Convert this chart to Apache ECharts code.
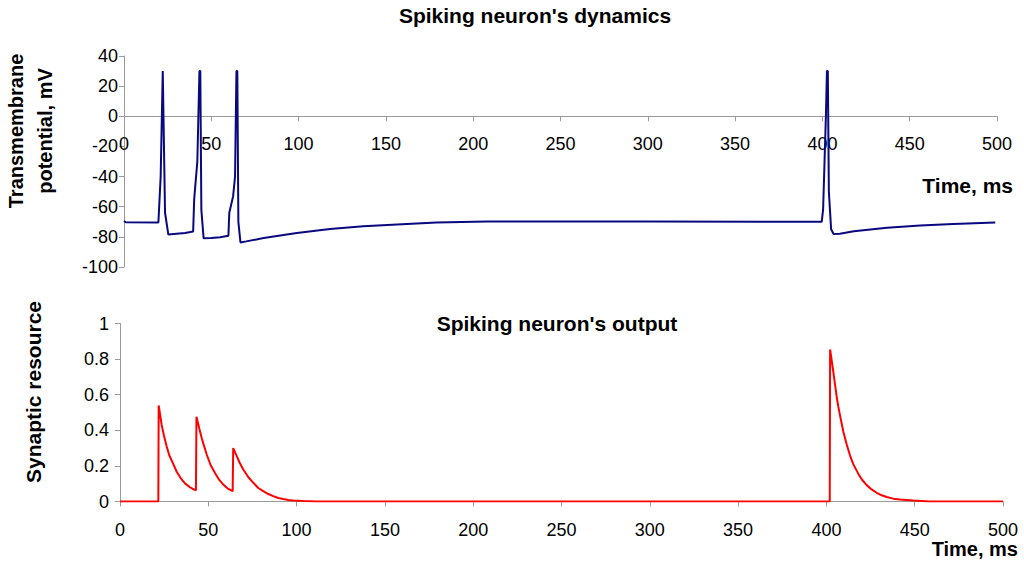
<!DOCTYPE html>
<html><head><meta charset="utf-8">
<script src="https://cdn.jsdelivr.net/npm/echarts@6/dist/echarts.min.js"></script>
<style>html,body{margin:0;padding:0;background:#fff}#c{width:1024px;height:565px}</style>
</head><body><div id="c"></div>
<script>
// Membrane potential (mV) vs time (ms)
var potTime = [0, 1, 19.7, 21.0, 22.2, 22.6, 23.5, 25.4, 30, 35, 39.6, 40.2, 42.0, 43.2, 43.7, 44.3, 45.6, 50, 55, 59.8, 60.3, 62.5, 63.6, 64.4, 64.9, 65.5, 66.7, 70, 80, 99, 118, 137, 162, 179, 208, 300, 399.6, 400.4, 402.0, 402.6, 403.1, 403.7, 405.0, 406.4, 410, 418, 437, 456, 475, 499];
var potValue = [-69.5, -70.3, -70.5, -40, 30, 30, -64, -78.5, -78, -77.5, -76.5, -55, -30, 30, 30, -62, -81, -80.8, -80.2, -79.2, -64, -53, -40, 30, 30, -70, -83.7, -83, -80.8, -77.4, -74.8, -73, -71.4, -70.5, -69.8, -69.8, -70, -62, 0, 30, 30, -50, -75, -78.1, -78, -76.3, -74, -72.5, -71.4, -70.5];
// Synaptic resource vs time (ms)
var resTime = [0, 21.7, 21.9, 23, 23.6, 24.9, 26.4, 27.9, 30.2, 32.1, 34.9, 36.8, 39.6, 41.5, 43.0,
  43.3, 44.9, 46.3, 47.2, 49.1, 51.3, 53.8, 56.2, 58.5, 60.8, 63.8,
  64.1, 66.1, 67.9, 69.8, 72.7, 75.5, 78.3, 81.1, 84.0, 86.8, 89.6, 92.5, 95.3, 98.1, 103.8, 108.5, 110,
  401.9, 402.1, 403.9, 404.9, 405.8, 406.7, 407.7, 408.7, 409.6, 411.5, 413.4, 415.2, 418.1, 420.0, 422.8, 425.6, 428.5, 431.3, 434.1, 437.9, 441.6, 449.2, 456.3, 458, 500];
var resValue = [0, 0, 0.54, 0.47, 0.43, 0.37, 0.31, 0.26, 0.21, 0.167, 0.124, 0.102, 0.08, 0.069, 0.062,
  0.476, 0.41, 0.355, 0.325, 0.264, 0.205, 0.16, 0.121, 0.095, 0.074, 0.058,
  0.30, 0.255, 0.215, 0.18, 0.136, 0.105, 0.076, 0.058, 0.042, 0.03, 0.02, 0.014, 0.009, 0.006, 0.003, 0.002, 0,
  0, 0.854, 0.73, 0.655, 0.59, 0.535, 0.484, 0.435, 0.392, 0.32, 0.258, 0.21, 0.155, 0.125, 0.092, 0.068, 0.049, 0.035, 0.025, 0.016, 0.011, 0.005, 0.002, 0, 0];
var xTicks = [0, 50, 100, 150, 200, 250, 300, 350, 400, 450, 500];
var potTicks = [-100, -80, -60, -40, -20, 0, 20, 40];
var resTicks = [0, 0.2, 0.4, 0.6, 0.8, 1];

var FONT = '"Liberation Sans", Arial, sans-serif';
var chart = echarts.init(document.getElementById('c'), null, {renderer: 'svg'});
function zip(a, b) { return a.map(function (v, i) { return [v, b[i]]; }); }
var axisGray = '#9a9a9a';
var G0 = {left: 124, right: 27, top: 56, height: 211};
// distance from bottom of the top grid to its zero line
var zeroOffset = -G0.height * (0 - potTicks[0]) / (potTicks[potTicks.length - 1] - potTicks[0]);
function xAxisCfg(idx, margin, offset) {
  return {
    type: 'value', gridIndex: idx, min: xTicks[0], max: xTicks[xTicks.length - 1], interval: xTicks[1] - xTicks[0],
    position: 'bottom', offset: offset,
    axisLine: {onZero: false, lineStyle: {color: axisGray, width: 1}},
    axisTick: {show: true, inside: false, length: 5, lineStyle: {color: axisGray}},
    axisLabel: {color: '#000', fontSize: 18, fontFamily: FONT, margin: margin},
    splitLine: {show: false}
  };
}
function yAxisCfg(idx, ticks, margin) {
  return {
    type: 'value', gridIndex: idx, min: ticks[0], max: ticks[ticks.length - 1], interval: ticks[1] - ticks[0],
    axisLine: {show: true, onZero: false, lineStyle: {color: axisGray, width: 1}},
    axisTick: {show: true, length: 5, lineStyle: {color: axisGray}},
    axisLabel: {color: '#000', fontSize: 18, fontFamily: FONT, margin: margin},
    splitLine: {show: false}
  };
}
function txt(t, x, y, size, align, rot) {
  return {type: 'text', x: x, y: y, rotation: rot || 0, silent: true,
    style: {text: t, x: 0, y: 0, align: align || 'center', verticalAlign: 'middle',
      font: 'bold ' + size + 'px ' + FONT, fill: '#000'}};
}
chart.setOption({
  animation: false,
  backgroundColor: '#fff',
  grid: [
    G0,
    {left: 120, right: 21, top: 323.5, height: 178}
  ],
  xAxis: [xAxisCfg(0, 19, zeroOffset), xAxisCfg(1, 19, 0)],
  yAxis: [yAxisCfg(0, potTicks, 6), yAxisCfg(1, resTicks, 11)],
  series: [
    {type: 'line', xAxisIndex: 0, yAxisIndex: 0, data: zip(potTime, potValue), showSymbol: false,
      lineStyle: {color: '#08087f', width: 2}, itemStyle: {color: '#08087f'}},
    {type: 'line', xAxisIndex: 1, yAxisIndex: 1, data: zip(resTime, resValue), showSymbol: false,
      lineStyle: {color: '#ff0000', width: 2}, itemStyle: {color: '#ff0000'}}
  ],
  graphic: [
    txt("Spiking neuron's dynamics", 535, 15, 21),
    txt("Spiking neuron's output", 557, 323, 21),
    txt('Time, ms', 1013, 185, 21, 'right'),
    txt('Time, ms', 1018, 549, 20, 'right'),
    txt('Transmembrane', 16, 131, 20, 'center', Math.PI / 2),
    txt('potential, mV', 45, 131, 20, 'center', Math.PI / 2),
    txt('Synaptic resource', 33, 392, 21, 'center', Math.PI / 2)
  ]
});
</script></body></html>
